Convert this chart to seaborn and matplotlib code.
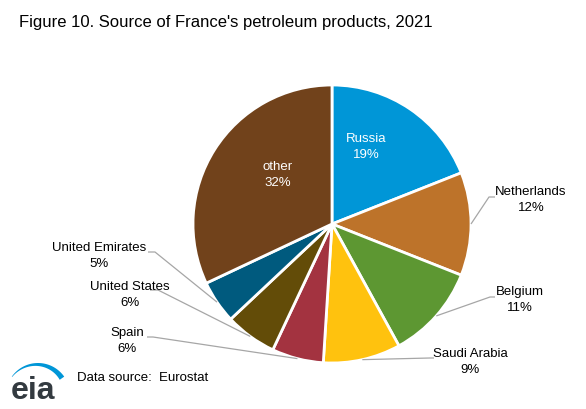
"""
Figure 10. Source of France's petroleum products, 2021 (pie chart, EIA style)
"""

import matplotlib
matplotlib.use('Agg')
import matplotlib.pyplot as plt
import seaborn as sns
import numpy as np
from matplotlib.patches import Polygon

# ──────────────────────────────────────────────────────────────────────────
# DATA
# ──────────────────────────────────────────────────────────────────────────
paises = ['Russia', 'Netherlands', 'Belgium', 'Saudi Arabia', 'Spain',
          'United States', 'United Emirates', 'other']
porcentajes = [19, 12, 11, 9, 6, 6, 5, 32]
colores = ['#0096D7', '#BD732A', '#5D9732', '#FFC20E', '#A33340',
           '#634C08', '#005A7E', '#71421B']

sns.set_theme(style='white')
plt.rcParams['font.family'] = ['Liberation Sans', 'DejaVu Sans']

W, H = 586, 409
fig = plt.figure(figsize=(W / 100, H / 100), dpi=100)
ax = fig.add_axes([0, 0, 1, 1])


def py(y):
    """pixel y (desde arriba) -> coordenada de datos"""
    return H - y


cx, cy, r = 332, 224, 139
wedges, _ = ax.pie(porcentajes, colors=colores, startangle=90, counterclock=False,
                   center=(cx, py(cy)), radius=r, frame=True,
                   wedgeprops=dict(edgecolor='white', linewidth=2))
ax.set_xlim(0, W)
ax.set_ylim(0, H)
ax.axis('off')

# etiquetas internas (blancas)
internas = {'Russia': (366, 147), 'other': (278, 175)}
# etiquetas externas: posición del texto y codo de la línea guía
externas = {
    'Netherlands':     ((531, 200), (489, 197), (495, 197)),
    'Belgium':         ((520, 300), (490, 297), (495, 297)),
    'Saudi Arabia':    ((470, 362), (430, 358), (434, 358)),
    'Spain':           ((127, 341), (153, 337), (147, 337)),
    'United States':   ((130, 295), (158, 290), (150, 290)),
    'United Emirates': ((99, 256), (155, 252), (148, 252)),
}

for w, nombre, pct in zip(wedges, paises, porcentajes):
    texto = f'{nombre}\n{pct}%'
    if nombre in internas:
        tx, ty = internas[nombre]
        ax.text(tx, py(ty), texto, color='white', fontsize=9.5,
                ha='center', va='center', linespacing=1.35)
        continue
    (tx, ty), (ex, ey), (hx, hy) = externas[nombre]
    ang = np.deg2rad((w.theta1 + w.theta2) / 2)
    px_ = w.center[0] + r * np.cos(ang)
    py_ = w.center[1] + r * np.sin(ang)
    ax.plot([px_, ex, hx], [py_, py(ey), py(hy)], color='#A6A6A6', lw=0.9,
            solid_capstyle='butt', zorder=1)
    ax.text(tx, py(ty), texto, color='black', fontsize=9.5,
            ha='center', va='center', linespacing=1.35)

# título
fig.text(19 / W, 1 - 22 / H, "Figure 10. Source of France's petroleum products, 2021",
         fontsize=12, color='black', ha='left', va='center')

# logo eia: arco azul que se engrosa hacia la derecha
t = np.linspace(np.deg2rad(145), np.deg2rad(35), 60)
r_ext = 32
r_int = np.linspace(31.5, 26.5, 60)
lx, ly = 38, py(395)
xs = np.concatenate([lx + r_ext * np.cos(t), (lx + r_int * np.cos(t))[::-1]])
ys = np.concatenate([ly + r_ext * np.sin(t), (ly + r_int * np.sin(t))[::-1]])
ax.add_patch(Polygon(np.column_stack([xs, ys]), closed=True,
                     facecolor='#0096D7', edgecolor='none'))
ax.text(11, py(399), 'eia', fontsize=23, fontweight='bold', color='#333A40',
        ha='left', va='baseline')
ax.text(77, py(378), 'Data source:  Eurostat', fontsize=9.5, color='black',
        ha='left', va='center')

plt.savefig('out.png', dpi=100)
plt.close()
